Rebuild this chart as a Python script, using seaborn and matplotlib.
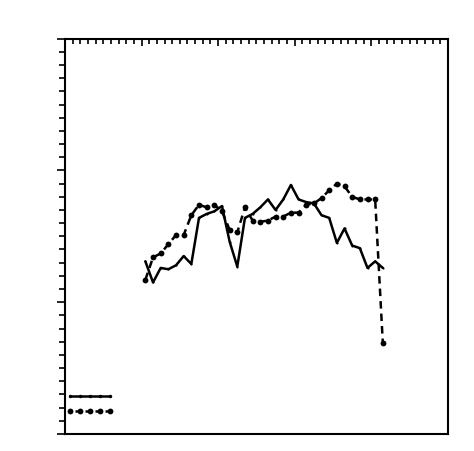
import numpy as np
import pandas as pd
import seaborn as sns
import matplotlib.pyplot as plt
from matplotlib.lines import Line2D
from matplotlib.ticker import MultipleLocator

# x positions (one step per top-axis minor tick)
x_pos = [10.5 + k for k in range(32)]

# solid series
solid_vals = [13.1, 11.5, 12.6, 12.5, 12.8, 13.5, 12.9, 16.4, 16.7, 16.9,
              17.3, 14.6, 12.7, 16.4, 16.7, 17.2, 17.8, 17.0, 17.8, 18.9,
              17.8, 17.6, 17.5, 16.6, 16.4, 14.5, 15.6, 14.3, 14.1, 12.6,
              13.1, 12.6]

# dashed series with dots
dashed_vals = [11.7, 13.4, 13.7, 14.4, 15.1, 15.1, 16.6, 17.4, 17.2, 17.4,
               16.9, 15.5, 15.3, 17.2, 16.2, 16.1, 16.2, 16.5, 16.5, 16.8,
               16.8, 17.4, 17.5, 17.9, 18.5, 19.0, 18.8, 18.0, 17.8, 17.8,
               17.8, 6.9]

df = pd.DataFrame({'x': x_pos, 'solid': solid_vals, 'dashed': dashed_vals})

sns.set_style("white")

fig = plt.figure(figsize=(4.74, 4.51), dpi=100)
ax = fig.add_axes([0.137, 0.038, 0.808, 0.876])

sns.lineplot(data=df, x='x', y='solid', ax=ax, color='black', linewidth=1.8,
             marker='o', markersize=1.5, markeredgewidth=0)
sns.lineplot(data=df, x='x', y='dashed', ax=ax, color='black', linewidth=1.8,
             linestyle=(0, (3, 2)), marker='o', markersize=4.2, markeredgewidth=0)

ax.set_xlim(0, 50)
ax.set_ylim(0, 30)
ax.set_xlabel('')
ax.set_ylabel('')

for s in ax.spines.values():
    s.set_visible(True)
    s.set_color('black')
    s.set_linewidth(1.5)

# top axis: inward ticks, left axis: outward ticks
ax.xaxis.set_major_locator(MultipleLocator(10))
ax.xaxis.set_minor_locator(MultipleLocator(1))
ax.yaxis.set_major_locator(MultipleLocator(10))
ax.yaxis.set_minor_locator(MultipleLocator(1))
ax.tick_params(axis='x', which='both', direction='in', top=True, bottom=False,
               labeltop=False, labelbottom=False, width=1.2, color='black')
ax.tick_params(axis='x', which='major', length=5)
ax.tick_params(axis='x', which='minor', length=3.5)
ax.tick_params(axis='y', which='both', direction='out', left=True, right=False,
               labelleft=False, labelright=False, width=1.2, color='black')
ax.tick_params(axis='y', which='major', length=6)
ax.tick_params(axis='y', which='minor', length=4)

handles = [
    Line2D([], [], color='black', linewidth=1.8, marker='o', markersize=2.5,
           markeredgewidth=0),
    Line2D([], [], color='black', linewidth=1.8, linestyle=(0, (1, 1)),
           marker='o', markersize=4.2, markeredgewidth=0),
]
ax.legend(handles, ['', ''], loc='lower left', frameon=False, numpoints=5,
          handlelength=3.5, handletextpad=0, borderaxespad=0.1,
          labelspacing=0.1, bbox_to_anchor=(-0.016, 0.02))

fig.savefig('out.png', dpi=100)
